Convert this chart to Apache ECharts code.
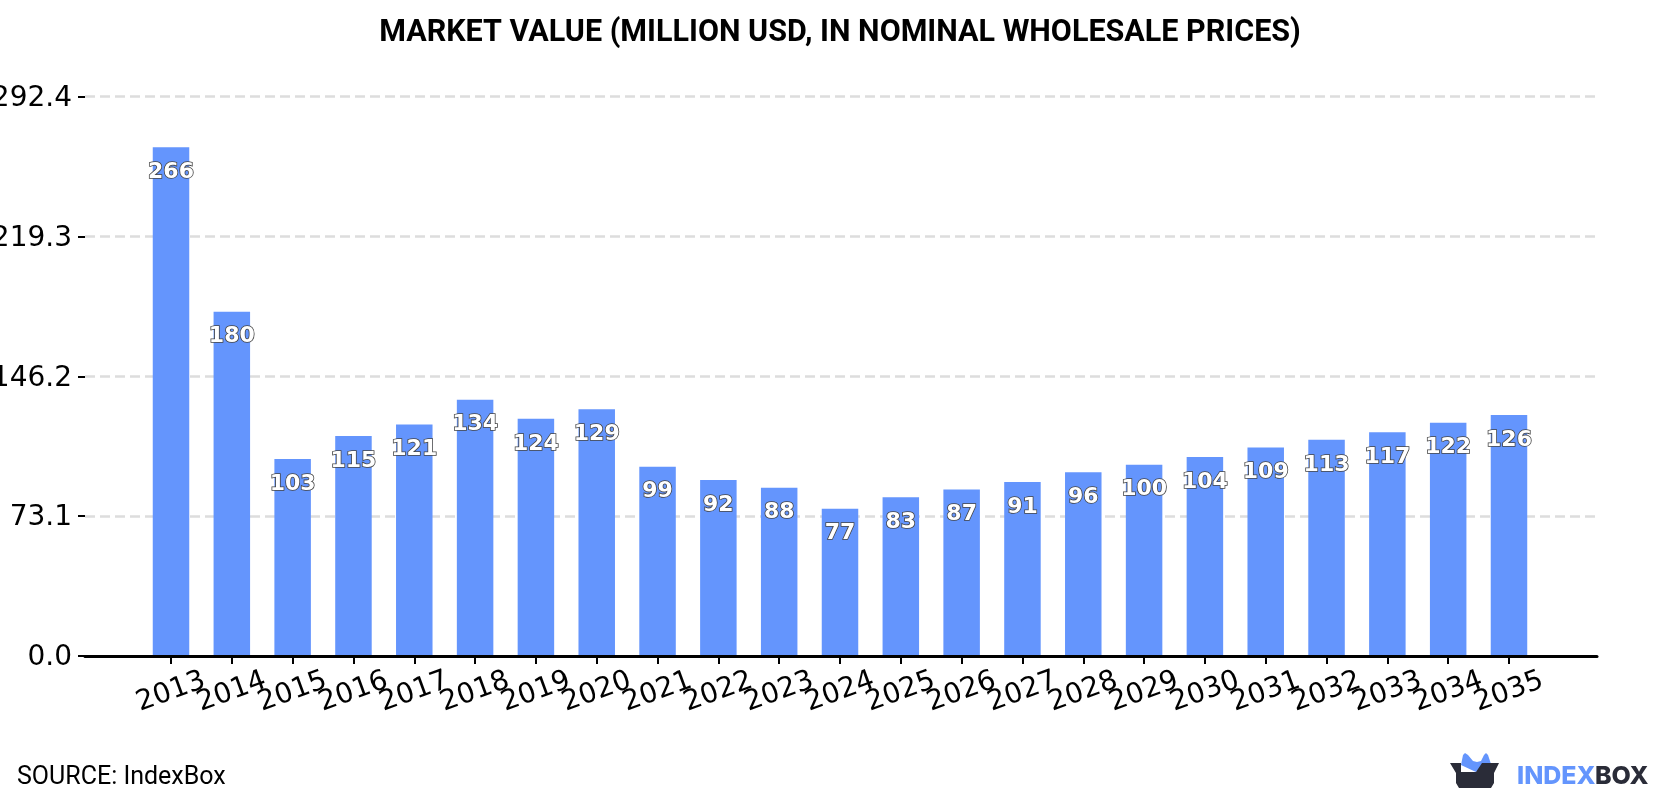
<!DOCTYPE html>
<html>
<head>
<meta charset="utf-8">
<style>html,body{margin:0;padding:0;background:#fff}#chart{width:1680px;height:800px}</style>
<script src="https://cdn.jsdelivr.net/npm/echarts@6/dist/echarts.min.js"></script>
</head>
<body>
<div id="chart"></div>
<script>
const years = ['2013','2014','2015','2016','2017','2018','2019','2020','2021','2022','2023','2024','2025','2026','2027','2028','2029','2030','2031','2032','2033','2034','2035'];
const marketValue = [266,180,103,115,121,134,124,129,99,92,88,77,83,87,91,96,100,104,109,113,117,122,126];
const yTicks = [0,73.1,146.2,219.3,292.4];
const titleText = 'MARKET VALUE (MILLION USD, IN NOMINAL WHOLESALE PRICES)';
const sourceText = 'SOURCE: IndexBox';

const chart = echarts.init(document.getElementById('chart'), null, {renderer:'canvas'});
chart.setOption({
  animation:false,
  backgroundColor:'#fff',
  title:{text:titleText,left:835,top:13,textAlign:'center',
    textStyle:{fontFamily:'Roboto',fontWeight:'bold',fontSize:30.5,color:'#000'}},
  // Outer grid carries the baseline and the y scale; inner grid holds the bars.
  grid:[
    {left:85,top:96.7,width:1512,height:559.3,containLabel:false,outerBoundsMode:'none'},
    {left:140.6,top:96.7,width:1398.8,height:559.3,containLabel:false,outerBoundsMode:'none'}
  ],
  xAxis:[
    {gridIndex:0,type:'value',min:0,max:1,z:3,
      splitLine:{show:false},axisTick:{show:false},axisLabel:{show:false},
      axisLine:{show:true,onZero:false,lineStyle:{color:'#000',width:3}}},
    {gridIndex:1,type:'category',data:years,boundaryGap:true,
      axisLine:{show:false,onZero:false},
      axisTick:{show:true,alignWithLabel:true,length:8,lineStyle:{color:'#000',width:2}},
      axisLabel:{show:true,interval:0,rotate:20,align:'center',verticalAlign:'middle',margin:36,
        fontFamily:'DejaVu Sans',fontSize:28,color:'#000',hideOverlap:false}}
  ],
  yAxis:[
    {gridIndex:0,type:'value',min:0,max:292.4,interval:73.1,
      axisLine:{show:false},
      axisTick:{show:true,length:7,lineStyle:{color:'#000',width:2}},
      splitLine:{show:true,lineStyle:{color:'#dddddd',width:2.5,type:[10,5]}},
      axisLabel:{show:true,margin:13,verticalAlign:'top',lineHeight:4,customValues:yTicks,showMinLabel:true,showMaxLabel:true,formatter:v=>v.toFixed(1),
        fontFamily:'DejaVu Sans',fontSize:28,color:'#000',hideOverlap:false}},
    {gridIndex:1,type:'value',min:0,max:292.4,show:false}
  ],
  series:[{
    type:'bar',xAxisIndex:1,yAxisIndex:1,barWidth:36.5,
    data:marketValue,
    itemStyle:{color:'#6495fd'},
    label:{show:true,position:'insideTop',distance:14,
      fontFamily:'DejaVu Sans',fontWeight:'bold',fontSize:22,color:'#fff',
      textBorderColor:'#444',textBorderWidth:1.6}
  }],
  graphic:[
    {type:'text',left:17,top:765,style:{text:sourceText,font:'25px Roboto',fill:'#000'}},
    // brand mark: ears behind, box body in front
    {type:'polygon',shape:{points:[[1461,765],[1463,755],[1465,753],[1468,755],[1473,761],[1477,762],[1481,761],[1484,755],[1486,753],[1488,755],[1491,764],[1476,772]]},style:{fill:'#6495fd'}},
    {type:'polygon',shape:{points:[[1450,763],[1461,763],[1461,772],[1476,772],[1482,763],[1499,763],[1494,773],[1494,783],[1491,788],[1459,788],[1456,783],[1456,773]]},style:{fill:'#2a2c38'}},
    {type:'text',left:1517,top:764,style:{text:'INDEX',font:'800 25px Inter',fill:'#6495fd'}},
    {type:'text',left:1595,top:764,style:{text:'BOX',font:'800 25px Inter',fill:'#2a2c38'}}
  ]
});
</script>
</body>
</html>
